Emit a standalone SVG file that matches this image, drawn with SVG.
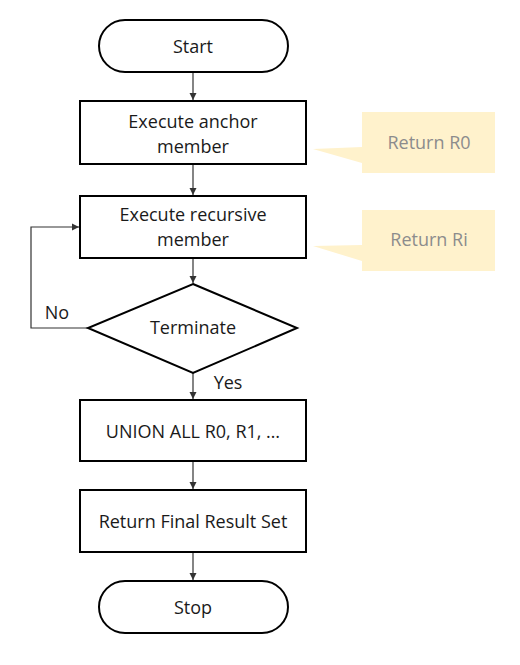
<svg xmlns="http://www.w3.org/2000/svg" width="520" height="665" viewBox="0 0 520 665">
<style>
.n{fill:#fff;stroke:#000;stroke-width:2}
.t{font-family:"Open Sans","Liberation Sans",sans-serif;font-size:18px;fill:#1a1a1a;text-anchor:middle}
.c{fill:none;stroke:#333;stroke-width:1.2}
.co{fill:#fff2cc;stroke:none}
.ct{font-family:"Open Sans","Liberation Sans",sans-serif;font-size:18px;fill:#8c8c8c;text-anchor:middle}
</style>
<defs>
<marker id="a" markerWidth="8" markerHeight="8" refX="7" refY="4" orient="auto" markerUnits="userSpaceOnUse">
<path d="M0,0.5 L7,4 L0,7.5 Z" fill="#333"/>
</marker>
</defs>
<rect width="520" height="665" fill="#fff"/>
<g id="connectors">
<line class="c" x1="193" y1="72" x2="193" y2="100" marker-end="url(#a)"/>
<line class="c" x1="193" y1="164" x2="193" y2="195" marker-end="url(#a)"/>
<line class="c" x1="193" y1="258" x2="193" y2="283" marker-end="url(#a)"/>
<polyline class="c" points="88,328 31,328 31,227 79,227" marker-end="url(#a)"/>
<line class="c" x1="193" y1="373" x2="193" y2="399" marker-end="url(#a)"/>
<line class="c" x1="193" y1="461" x2="193" y2="489" marker-end="url(#a)"/>
<line class="c" x1="193" y1="552" x2="193" y2="580" marker-end="url(#a)"/>
<text class="t" x="57" y="319">No</text>
<text class="t" x="228" y="389">Yes</text>
</g>
<g id="start">
<rect class="n" x="99" y="20" width="189" height="52" rx="26"/>
<text class="t" x="193" y="53">Start</text>
</g>
<g id="anchor">
<rect class="n" x="80" y="101" width="226" height="63"/>
<text class="t" x="193" y="128">Execute anchor</text>
<text class="t" x="193" y="153">member</text>
</g>
<g id="recursive">
<rect class="n" x="80" y="196" width="226" height="62"/>
<text class="t" x="193" y="221">Execute recursive</text>
<text class="t" x="193" y="246">member</text>
</g>
<g id="terminate">
<polygon class="n" points="193,284 297,328 193,373 88,328"/>
<text class="t" x="193" y="334">Terminate</text>
</g>
<g id="union">
<rect class="n" x="80" y="400" width="226" height="61"/>
<text class="t" x="193" y="438">UNION ALL R0, R1, …</text>
</g>
<g id="final">
<rect class="n" x="80" y="490" width="226" height="62"/>
<text class="t" x="193" y="528">Return Final Result Set</text>
</g>
<g id="stop">
<rect class="n" x="99" y="581" width="189" height="52" rx="26"/>
<text class="t" x="193" y="614">Stop</text>
</g>
<g id="callout-r0">
<path class="co" d="M362,112 H495 V173 H362 V163 L313,149 L362,147 Z"/>
<text class="ct" x="429" y="149">Return R0</text>
</g>
<g id="callout-ri">
<path class="co" d="M362,210 H495 V271 H362 V261 L313,246 L362,245 Z"/>
<text class="ct" x="429" y="246">Return Ri</text>
</g>
</svg>
